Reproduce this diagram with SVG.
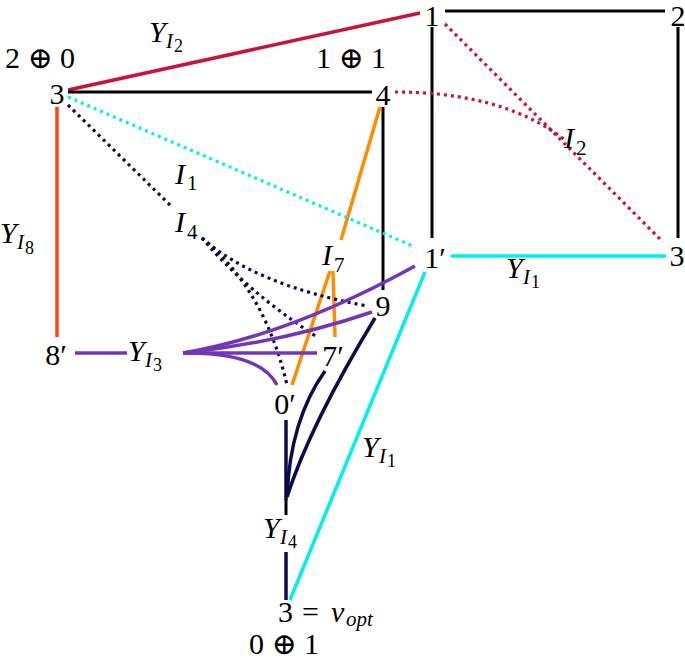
<svg xmlns="http://www.w3.org/2000/svg" width="685" height="659" viewBox="0 0 685 659">
<style>
text{font-family:"Liberation Serif","DejaVu Serif",serif;font-size:30px;fill:#000}
.m{text-anchor:middle}
.it{font-style:italic}
.s1{font-size:21px}
.s2{font-size:18px}
.ln{fill:none;stroke-width:3.5;stroke-linecap:butt}
.dt{fill:none;stroke-width:3.2;stroke-dasharray:3 4}
.k{stroke:#000;stroke-width:3}
.cr{stroke:#c8143c}
.or{stroke:#ff4514}
.og{stroke:#ff8c00}
.cy{stroke:#00f0f0}
.nv{stroke:#0c0c4c}
.pu{stroke:#7436b8}
</style>
<g id="connectors">
<line class="ln k" x1="445" y1="11" x2="665" y2="11"/>
<line class="ln k" x1="432" y1="27" x2="432" y2="238"/>
<line class="ln k" x1="678" y1="27" x2="678" y2="238"/>
<line class="ln cy" x1="451" y1="256" x2="666" y2="256"/>
<line class="dt cr" x1="445" y1="24" x2="663" y2="242"/>
<path class="dt cr" d="M395,92 C460,92 520,105 565,140"/>
<line class="ln cr" x1="68" y1="90" x2="420" y2="13"/>
<line class="ln k" x1="68" y1="92" x2="372" y2="92"/>
<line class="ln k" x1="383" y1="107" x2="383" y2="290"/>
<line class="ln og" x1="380" y1="107" x2="341" y2="240"/>
<line class="ln og" x1="330" y1="271" x2="292" y2="385"/>
<line class="ln og" x1="333" y1="271" x2="335" y2="337"/>
<line class="dt cy" x1="68" y1="97" x2="415" y2="247"/>
<line class="dt nv" x1="68" y1="105" x2="170" y2="205"/>
<path class="dt nv" d="M202,238 Q255,285 367,306"/>
<path class="dt nv" d="M202,238 Q245,290 317,337"/>
<path class="dt nv" d="M202,238 Q265,290 287,385"/>
<line class="ln or" x1="57" y1="107" x2="57" y2="337"/>
<line class="ln pu" x1="75" y1="353" x2="127" y2="353"/>
<path class="ln pu" d="M183,353 Q290,335 415,266"/>
<path class="ln pu" d="M183,353 Q285,342 372,312"/>
<line class="ln pu" x1="183" y1="353" x2="317" y2="353"/>
<path class="ln pu" d="M183,353 Q260,352 277,385"/>
<line class="ln nv" x1="286" y1="420" x2="286" y2="500"/>
<line class="ln k" x1="286" y1="499" x2="286" y2="515"/>
<path class="ln nv" d="M287,497 Q290,420 325,371"/>
<path class="ln nv" d="M287,497 Q310,425 375,318"/>
<line class="ln nv" x1="286" y1="552" x2="286" y2="600"/>
<line class="ln cy" x1="290" y1="600" x2="425" y2="272"/>
</g>
<g id="n1"><text class="m" x="432" y="26">1</text></g>
<g id="n2"><text class="m" x="678" y="26">2</text></g>
<g id="n3r"><text class="m" x="677" y="266">3</text></g>
<g id="n1p"><text class="m" x="435" y="268">1′</text></g>
<g id="lYI1a"><text x="506" y="278"><tspan class="it">Y</tspan><tspan class="s1 it" x="523" y="284">I</tspan><tspan class="s2" x="531" y="288">1</tspan></text></g>
<g id="lI2"><text x="564" y="148"><tspan class="it">I</tspan><tspan class="s1" x="576" y="155">2</tspan></text></g>
<g id="n3l"><text class="m" x="57" y="104">3</text></g>
<g id="l20"><text class="m" x="40" y="68">2 ⊕ 0</text></g>
<g id="lYI2"><text x="149" y="42"><tspan class="it">Y</tspan><tspan class="s1 it" x="166" y="48">I</tspan><tspan class="s2" x="174" y="52">2</tspan></text></g>
<g id="l11"><text class="m" x="351" y="68">1 ⊕ 1</text></g>
<g id="n4"><text class="m" x="383" y="105">4</text></g>
<g id="lI1"><text x="175" y="184"><tspan class="it">I</tspan><tspan class="s1" x="187" y="190">1</tspan></text></g>
<g id="lI4"><text x="175" y="232"><tspan class="it">I</tspan><tspan class="s1" x="187" y="239">4</tspan></text></g>
<g id="lYI8"><text x="0" y="243"><tspan class="it">Y</tspan><tspan class="s1 it" x="17" y="249">I</tspan><tspan class="s2" x="25" y="254">8</tspan></text></g>
<g id="n8p"><text class="m" x="56" y="365">8′</text></g>
<g id="lYI3"><text x="128" y="361"><tspan class="it">Y</tspan><tspan class="s1 it" x="145" y="367">I</tspan><tspan class="s2" x="153" y="371">3</tspan></text></g>
<g id="lI7"><text x="322" y="265"><tspan class="it">I</tspan><tspan class="s1" x="334" y="272">7</tspan></text></g>
<g id="n9"><text class="m" x="383" y="316">9</text></g>
<g id="n7p"><text class="m" x="333" y="366">7′</text></g>
<g id="n0p"><text class="m" x="285" y="414">0′</text></g>
<g id="lYI4"><text x="263" y="538"><tspan class="it">Y</tspan><tspan class="s1 it" x="280" y="544">I</tspan><tspan class="s2" x="288" y="548">4</tspan></text></g>
<g id="n3b"><text x="278" y="622">3<tspan x="302">=</tspan><tspan class="it" x="331">v</tspan><tspan class="s1 it" x="346" y="626">opt</tspan></text></g>
<g id="l01"><text class="m" x="284" y="654">0 ⊕ 1</text></g>
<g id="lYI1b"><text x="362" y="457"><tspan class="it">Y</tspan><tspan class="s1 it" x="379" y="463">I</tspan><tspan class="s2" x="387" y="467">1</tspan></text></g>
</svg>
